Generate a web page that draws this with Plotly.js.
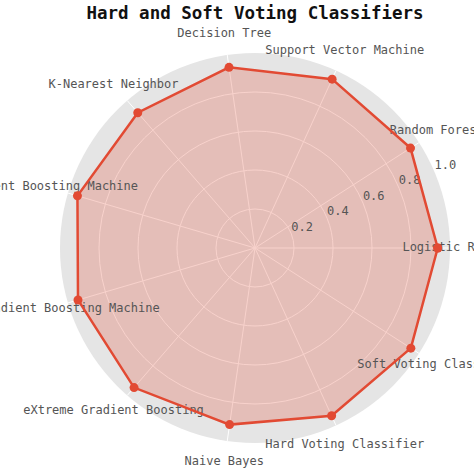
<!DOCTYPE html>
<html>
<head>
<meta charset="utf-8">
<script src="https://cdn.plot.ly/plotly-3.0.1.min.js"></script>
<style>
  html, body { margin: 0; padding: 0; background: #fff; }
  #chart { width: 474px; height: 474px; }
</style>
</head>
<body>
<div id="chart"></div>
<script>
// radar of classifier scores, counterclockwise from the right
const models = [
  'Logistic Regression',
  'Random Forest',
  'Support Vector Machine',
  'Decision Tree',
  'K-Nearest Neighbor',
  'Gradient Boosting Machine',
  'Light Gradient Boosting Machine',
  'eXtreme Gradient Boosting',
  'Naive Bayes',
  'Hard Voting Classifier',
  'Soft Voting Classifier'
];
const scores = [0.937, 0.948, 0.952, 0.936, 0.918, 0.949, 0.946, 0.947, 0.915, 0.946, 0.950];
const radialTicks = [0.2, 0.4, 0.6, 0.8, 1.0];

const red = '#E24A33';
const grey = '#555555';
const mono = '"DejaVu Sans Mono", "Liberation Mono", monospace';

// close the polygon by repeating the first point
const thetaClosed = models.concat([models[0]]);
const rClosed = scores.concat([scores[0]]);

// label layer uses a linear angle so the tick labels can sit off-spoke
const step = 360 / models.length;
const labelTheta = models.map((m, i) => i * step);
const LABEL_R = 1.108;      // where matplotlib centres the spoke labels
const TICK_ANGLE = 23.3;    // radial tick label direction
const TICK_PAD = 0.063;

const data = [
  {
    // translucent area, under the labels
    type: 'scatterpolar',
    subplot: 'polar',
    mode: 'none',
    theta: thetaClosed,
    r: rClosed,
    fill: 'toself',
    fillcolor: 'rgba(226,74,51,0.25)',
    hoverinfo: 'skip'
  },
  {
    type: 'scatterpolar',
    subplot: 'polar2',
    mode: 'text',
    theta: labelTheta,
    r: models.map(() => LABEL_R),
    text: models,
    textposition: 'middle center',
    textfont: { family: mono, size: 12, color: grey },
    cliponaxis: false,
    hoverinfo: 'skip'
  },
  {
    type: 'scatterpolar',
    subplot: 'polar2',
    mode: 'text',
    theta: radialTicks.map(() => TICK_ANGLE),
    r: radialTicks.map(v => v + TICK_PAD),
    text: radialTicks.map(v => v.toFixed(1)),
    textposition: 'middle center',
    textfont: { family: mono, size: 12, color: grey },
    cliponaxis: false,
    hoverinfo: 'skip'
  },
  {
    // outline and markers on top of everything
    type: 'scatterpolar',
    subplot: 'polar3',
    mode: 'lines+markers',
    theta: thetaClosed,
    r: rClosed,
    line: { color: red, width: 2.5 },
    marker: { color: red, size: 9 },
    cliponaxis: false,
    hoverinfo: 'skip'
  }
];

const mainDomain = { x: [0.12658, 0.94937], y: [0.06540, 0.88819] };

const layout = {
  width: 474,
  height: 474,
  margin: { t: 0, r: 0, b: 0, l: 0 },
  paper_bgcolor: '#FFFFFF',
  showlegend: false,
  title: {
    // centred over the radar, not the page
    text: '<b>Hard and Soft Voting Classifiers</b>',
    font: { family: mono, size: 17.5, color: '#111111' },
    x: 0.538, xanchor: 'center',
    y: 0.972, yanchor: 'middle'
  },
  polar: {
    domain: mainDomain,
    bgcolor: '#E5E5E5',
    radialaxis: {
      range: [0, 1],
      tickvals: radialTicks,
      showticklabels: false,
      showline: false,
      ticks: '',
      gridcolor: '#FFFFFF',
      gridwidth: 1,
      layer: 'below traces'
    },
    angularaxis: {
      type: 'category',
      categoryarray: models,
      rotation: 0,
      direction: 'counterclockwise',
      showticklabels: false,
      ticks: '',
      showline: false,
      gridcolor: '#FFFFFF',
      gridwidth: 1,
      layer: 'below traces'
    }
  },
  polar2: {
    domain: { x: [0.07722, 0.99873], y: [0.01603, 0.93755] },
    bgcolor: 'rgba(0,0,0,0)',
    radialaxis: { range: [0, 1.12], visible: false },
    angularaxis: {
      type: 'linear',
      thetaunit: 'degrees',
      rotation: 0,
      direction: 'counterclockwise',
      visible: false
    }
  },
  polar3: {
    domain: mainDomain,
    bgcolor: 'rgba(0,0,0,0)',
    radialaxis: { range: [0, 1], visible: false },
    angularaxis: {
      type: 'category',
      categoryarray: models,
      rotation: 0,
      direction: 'counterclockwise',
      visible: false
    }
  }
};

Plotly.newPlot('chart', data, layout, { displayModeBar: false, staticPlot: true });
</script>
</body>
</html>
